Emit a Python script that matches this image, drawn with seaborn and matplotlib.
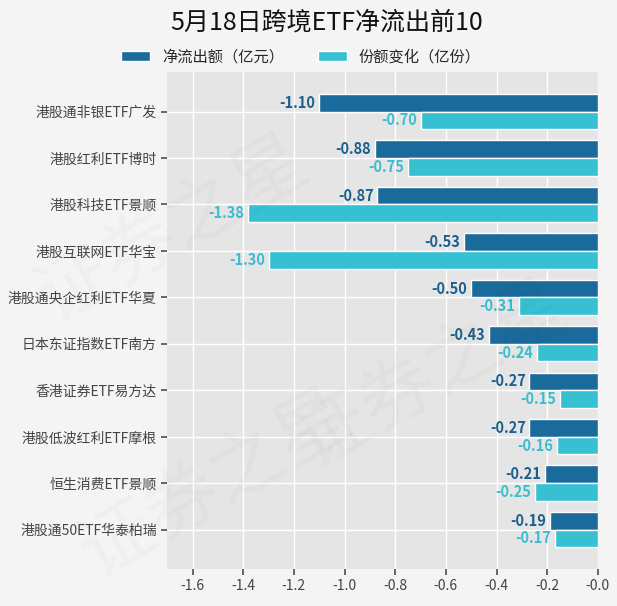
import numpy as np
import pandas as pd
import matplotlib
matplotlib.use("Agg")
import matplotlib.pyplot as plt
import seaborn as sns

funds = ["港股通非银ETF广发", "港股红利ETF博时", "港股科技ETF景顺", "港股互联网ETF华宝",
         "港股通央企红利ETF华夏", "日本东证指数ETF南方", "香港证券ETF易方达",
         "港股低波红利ETF摩根", "恒生消费ETF景顺", "港股通50ETF华泰柏瑞"]
net_outflow = [-1.10, -0.88, -0.87, -0.53, -0.50, -0.43, -0.27, -0.27, -0.21, -0.19]
share_change = [-0.70, -0.75, -1.38, -1.30, -0.31, -0.24, -0.15, -0.16, -0.25, -0.17]
series = ["净流出额（亿元）", "份额变化（亿份）"]
colors = ["#1a6b9b", "#36c0d2"]
label_colors = ["#1d5f8c", "#3bbdd0"]

df = pd.DataFrame({
    "fund": funds * 2,
    "value": net_outflow + share_change,
    "series": [series[0]] * len(funds) + [series[1]] * len(funds),
})

sns.set_theme(style="darkgrid")
plt.rcParams["font.family"] = ["Noto Sans CJK SC", "DejaVu Sans"]
plt.rcParams["axes.unicode_minus"] = False

fig = plt.figure(figsize=(6.17, 6.06), dpi=100, facecolor="#f4f4f4")
ax = fig.add_axes([0.271, 0.061, 0.698, 0.820])
ax.set_facecolor("#e5e5e5")

sns.barplot(data=df, y="fund", x="value", hue="series", palette=colors,
            orient="h", width=0.76, ax=ax, saturation=1, legend=True, zorder=3)

for i, cont in enumerate(ax.containers):
    vals = net_outflow if i == 0 else share_change
    for bar, v in zip(cont, vals):
        ax.text(v - 0.015, bar.get_y() + bar.get_height() / 2, f"{v:.2f}",
                ha="right", va="center", fontsize=10.5, fontweight="bold",
                color=label_colors[i], zorder=4)

ax.set_xlim(-1.7, 0.0)
ax.set_ylim(9.85, -0.85)
ax.set_xticks(np.arange(-1.6, 0.01, 0.2))
ax.set_xticklabels([f"{t:.1f}" for t in np.arange(-1.6, 0.01, 0.2)])
ax.grid(True, color="white", linewidth=1.0)
ax.set_axisbelow(True)
ax.tick_params(axis="both", which="both", length=4, color="#555555", labelsize=10,
               labelcolor="#444444", left=True, bottom=True)
ax.set_xlabel("")
ax.set_ylabel("")
for s in ax.spines.values():
    s.set_visible(False)

ax.legend(loc="lower center", bbox_to_anchor=(0.31, 0.995), ncol=2, frameon=False,
          fontsize=11, handlelength=1.9, handleheight=0.6, columnspacing=2.2,
          borderaxespad=0.2)

fig.text(0.53, 0.962, "5月18日跨境ETF净流出前10", ha="center", va="center",
         fontsize=18, color="#111111")

# faint watermark, kept inside the figure
for (x, y) in [(0.28, 0.62), (0.70, 0.38), (0.35, 0.20)]:
    fig.text(x, y, "证券之星", fontsize=54, color="black", alpha=0.025, rotation=30,
             ha="center", va="center", zorder=10)

fig.savefig("out.png", dpi=100, facecolor=fig.get_facecolor())
